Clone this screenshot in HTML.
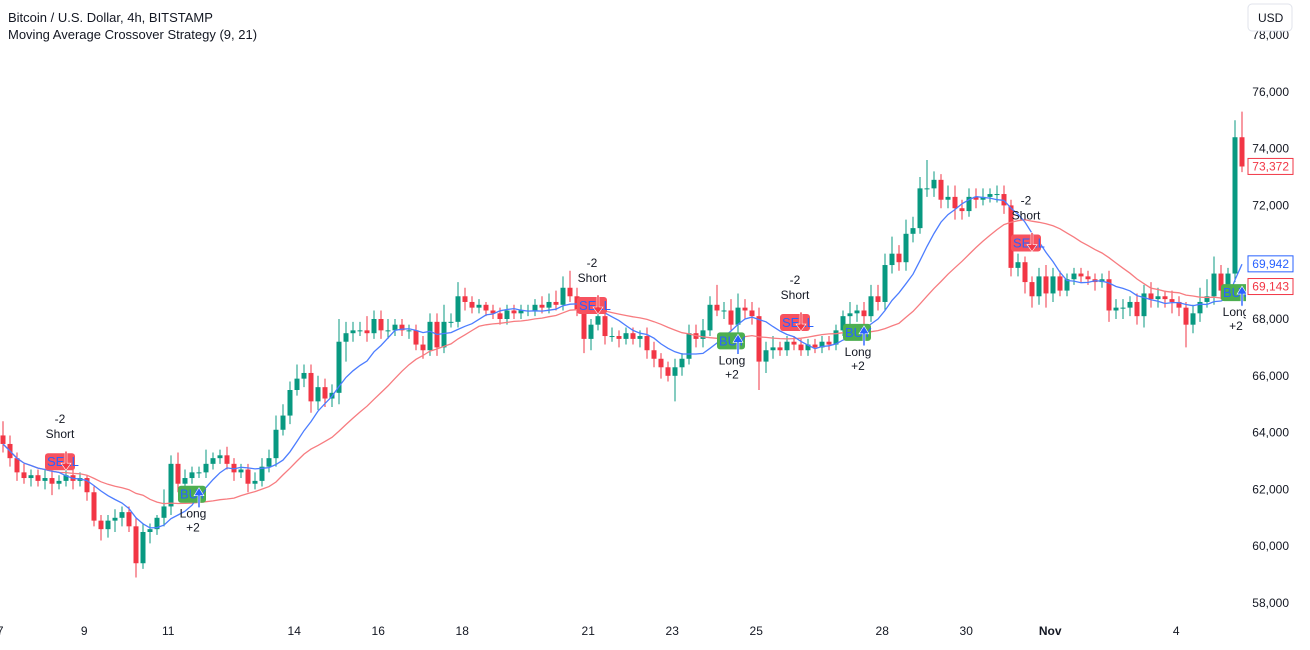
<!DOCTYPE html>
<html><head><meta charset="utf-8"><style>
body{margin:0;background:#fff;font-family:"Liberation Sans",sans-serif;}
svg text{font-family:"Liberation Sans",sans-serif;}
</style></head><body>
<svg id="chart" width="1310" height="645" viewBox="0 0 1310 645" xmlns="http://www.w3.org/2000/svg">
<rect width="1310" height="645" fill="#fff"/>
<defs><clipPath id="pane"><rect x="0" y="0" width="1246" height="620"/></clipPath></defs>
<g id="plot" clip-path="url(#pane)"></g>
<g id="axis"></g>
<g id="xaxis"></g>
<text x="8" y="22" font-size="13" fill="#131722">Bitcoin / U.S. Dollar, 4h, BITSTAMP</text>
<text x="8" y="39" font-size="13" fill="#131722">Moving Average Crossover Strategy (9, 21)</text>
<g><rect x="1248" y="4" width="44" height="27" rx="4" fill="#fff" stroke="#e0e3eb"/><text x="1258" y="22" font-size="12" fill="#131722">USD</text></g>
</svg>
<script>
const closes=[63.6,63.1,62.6,62.4,62.5,62.3,62.4,62.2,62.3,62.5,62.3,62.4,61.9,60.9,60.6,60.9,61.0,61.2,60.7,59.4,
60.5,60.6,61.0,61.4,62.9,62.2,62.4,62.6,62.6,62.9,63.1,63.2,62.9,62.6,62.7,62.2,62.3,62.8,63.1,64.1,
64.6,65.5,65.9,66.1,65.1,65.6,65.2,65.4,67.2,67.5,67.6,67.6,67.5,68.0,67.6,67.6,67.8,67.6,67.6,67.1,
66.9,67.9,67.0,67.9,67.9,68.8,68.6,68.4,68.5,68.3,68.2,68.0,68.3,68.2,68.3,68.3,68.5,68.4,68.6,68.5,
69.1,68.8,68.3,67.3,67.8,68.1,67.4,67.4,67.3,67.5,67.3,67.4,66.9,66.6,66.3,66.0,66.3,66.6,67.5,67.3,
67.6,68.5,68.3,68.3,67.8,68.4,68.3,68.1,66.5,66.9,67.0,66.9,67.2,67.1,66.9,67.1,67.0,67.2,67.1,67.6,
68.1,68.2,68.3,68.1,68.8,68.6,69.9,70.3,70.0,71.0,71.2,72.6,72.6,72.9,72.2,72.3,71.9,71.8,72.3,72.2,
72.3,72.4,72.4,72.0,69.8,70.0,69.3,68.8,69.5,68.9,69.5,69.0,69.4,69.6,69.5,69.4,69.3,69.4,68.3,68.4,
68.4,68.6,68.1,68.9,68.7,68.8,68.7,68.6,68.4,67.8,68.2,68.6,68.8,69.6,69.0,69.6,74.4,73.37];
const wickUp=[0.5,0.3,0.2,0.3,0.2,0.2,0.3,0.5,0.2,0.3,0.2,0.2,0.1,0.2,0.2,0.2,0.3,0.2,0.2,0.3,
0.3,0.2,0.1,0.6,0.3,0.4,0.3,0.2,0.2,0.5,0.2,0.2,0.3,0.2,0.2,0.2,0.3,0.3,0.3,0.5,
0.4,0.3,0.5,0.3,0.3,0.4,0.3,0.3,0.8,0.4,0.3,0.3,0.5,0.3,0.3,0.4,0.2,0.2,0.2,0.2,
0.3,0.3,0.3,0.6,0.3,0.5,0.3,0.2,0.2,0.1,0.2,0.2,0.2,0.2,0.2,0.2,0.2,0.3,0.3,0.4,
0.4,0.6,0.3,0.3,0.2,0.2,0.3,0.3,0.2,0.2,0.2,0.2,0.3,0.3,0.2,0.2,0.3,0.2,0.3,0.3,
0.4,0.3,0.7,0.3,0.4,0.5,0.3,0.3,0.3,0.3,0.4,0.2,0.2,0.2,0.2,0.2,0.2,0.2,0.2,0.2,
0.2,0.4,0.2,0.3,0.4,0.4,0.4,0.6,0.3,0.5,0.4,0.4,1.0,0.3,0.2,0.4,0.4,0.3,0.3,0.3,
0.3,0.2,0.3,0.3,0.2,0.3,0.2,0.2,0.3,0.4,0.3,0.2,0.2,0.2,0.2,0.2,0.2,0.2,0.3,0.3,
0.3,0.2,0.3,0.3,0.4,0.3,0.2,0.3,0.2,0.2,0.3,0.5,0.6,0.6,0.3,0.2,0.6,0.9];
const wickDn=[0.3,0.3,0.3,0.2,0.3,0.2,0.3,0.4,0.2,0.2,0.3,0.2,0.3,0.2,0.4,0.3,0.4,0.3,0.2,0.5,
0.2,0.4,0.2,0.3,0.3,0.3,0.2,0.2,0.2,0.2,0.2,0.2,0.2,0.3,0.2,0.3,0.2,0.2,0.2,0.3,
0.2,0.3,0.2,0.3,0.4,0.3,0.3,0.3,0.4,0.7,0.3,0.2,0.3,0.2,0.3,0.3,0.2,0.2,0.3,0.2,
0.3,0.2,0.3,0.2,0.2,0.2,0.3,0.2,0.2,0.2,0.2,0.2,0.2,0.2,0.2,0.2,0.2,0.2,0.2,0.2,
0.2,0.2,0.2,0.5,0.4,0.2,0.3,0.2,0.3,0.2,0.2,0.3,0.3,0.3,0.4,0.2,0.9,0.3,0.2,0.3,
0.3,0.2,0.2,0.3,0.2,0.4,0.3,0.3,1.0,0.4,0.3,0.2,0.2,0.2,0.2,0.2,0.2,0.2,0.2,0.2,
0.2,0.3,0.3,0.3,0.2,0.3,0.3,0.3,0.3,0.3,0.3,0.2,0.3,0.3,0.3,0.3,0.4,0.3,0.2,0.3,
0.2,0.2,0.3,0.3,0.3,0.3,0.4,0.4,0.3,0.5,0.3,0.2,0.2,0.2,0.2,0.2,0.3,0.2,0.4,0.3,
0.4,0.3,0.3,0.4,0.3,0.3,0.3,0.4,0.3,0.8,0.3,0.3,0.2,0.3,0.3,0.3,0.3,0.2];
const priceTicks=[78000,76000,74000,72000,70000,68000,66000,64000,62000,60000,58000];
const dateLabels=['7','9','11','14','16','18','21','23','25','28','30','Nov','4'];
const dateDays=[0,2,4,7,9,11,14,16,18,21,23,25,28];
const signalIdx=[8,27,84,104,113,122,146,176];
const signalType=['sell','buy','sell','buy','sell','buy','sell','buy'];
const lastPrice=73372, ma9Last=69942, ma21Last=69143;

const NS='http://www.w3.org/2000/svg';
const yOf=p=>35+(78000-p)/2000*56.8;
const xOf=i=>3+7*i;
const plot=document.getElementById('plot'),axis=document.getElementById('axis'),xaxis=document.getElementById('xaxis');
function mk(tag,attrs,parent){const e=document.createElementNS(NS,tag);for(const k in attrs)e.setAttribute(k,attrs[k]);parent.appendChild(e);return e;}
const GREEN='#089981',RED='#f23645';
// candles
closes.forEach((c,i)=>{
  const o=i===0?63.9:closes[i-1];
  const hi=Math.max(o,c)+wickUp[i],lo=Math.min(o,c)-wickDn[i];
  const col=c>=o?GREEN:RED;const x=xOf(i);
  const g=mk('g',{},plot);
  
  
  mk('line',{x1:x,x2:x,y1:yOf(hi*1000),y2:yOf(lo*1000),stroke:col,'stroke-width':1},g);
  const y1=yOf(Math.max(o,c)*1000),y2=yOf(Math.min(o,c)*1000);
  mk('rect',{x:x-2.5,y:y1,width:5,height:Math.max(1,y2-y1),fill:col},g);
});
// moving averages
function ma(n){return closes.map((c,i)=>{const s=closes.slice(Math.max(0,i-n+1),i+1);return s.reduce((a,b)=>a+b,0)/s.length;});}
[[21,'#f77c80','ma21-line'],[9,'#4c7dff','ma9-line']].forEach(([n,col,name])=>{
  const m=ma(n);const d=m.map((v,i)=>(i?'L':'M')+xOf(i)+','+yOf(v*1000).toFixed(1)).join('');
  const p=mk('path',{d:d,fill:'none',stroke:col,'stroke-width':1.3},plot);
  
  
});
// signals
signalIdx.forEach((i,k)=>{
  const x=xOf(i);const t=signalType[k];const c=closes[i];
  const g=mk('g',{},plot);
  if(t==='sell'){
    
    
    const top=yOf((Math.max(c,closes[i-1])+wickUp[i])*1000)-22;
    mk('rect',{x:x-14,y:top,width:30,height:17,rx:3,fill:'#f7525f'},g);
    const tx=mk('text',{x:x-12,y:top+13,'font-size':13,fill:'#2962ff'},g);tx.textContent='SELL';
    mk('path',{d:`M${x+6},${top-2}v12h-4l5,7l5,-7h-4v-12z`,fill:'#f23645',stroke:'#fff','stroke-width':0.6},g);
    const a=mk('text',{x:x+1,y:top-30,'font-size':12,fill:'#131722','text-anchor':'middle'},g);a.textContent='-2';
    const b=mk('text',{x:x+1,y:top-15,'font-size':12,fill:'#131722','text-anchor':'middle'},g);b.textContent='Short';
  }else{
    
    
    const top=yOf((Math.min(c,closes[i-1])-wickDn[i])*1000)+2;
    mk('rect',{x:x-14,y:top,width:28,height:17,rx:3,fill:'#4caf50'},g);
    const tx=mk('text',{x:x-12,y:top+13,'font-size':13,fill:'#2962ff'},g);tx.textContent='BUY';
    mk('path',{d:`M${x+6},${top+22}v-12h-4l5,-8l5,8h-4v12z`,fill:'#2962ff',stroke:'#fff','stroke-width':0.6},g);
    const a=mk('text',{x:x+1,y:top+32,'font-size':12,fill:'#131722','text-anchor':'middle'},g);a.textContent='Long';
    const b=mk('text',{x:x+1,y:top+46,'font-size':12,fill:'#131722','text-anchor':'middle'},g);b.textContent='+2';
  }
});
// price axis
priceTicks.forEach(p=>{
  const t=mk('text',{x:1289,y:yOf(p)+4,'font-size':12,fill:'#131722','text-anchor':'end'},axis);
  
  
  t.textContent=p.toLocaleString('en-US');
});
[[lastPrice,'#f23645','last-price-tag'],[ma9Last,'#2962ff','ma9-price-tag'],[ma21Last,'#f23645','ma21-price-tag']].forEach(([p,col,name])=>{
  const g=mk('g',{},axis);
  
  
  mk('rect',{x:1248,y:yOf(p)-8,width:45,height:16,fill:'#fff',stroke:col,'stroke-width':1},g);
  const t=mk('text',{x:1289,y:yOf(p)+4,'font-size':12,fill:col,'text-anchor':'end'},g);t.textContent=p.toLocaleString('en-US');
});
// time axis
dateLabels.forEach((l,k)=>{
  const t=mk('text',{x:xOf(dateDays[k]*6-0.4),y:635,'font-size':12,fill:'#131722','text-anchor':'middle','font-weight':l==='Nov'?'bold':'normal'},xaxis);
  
  
  t.textContent=l;
});
</script>
</body></html>
